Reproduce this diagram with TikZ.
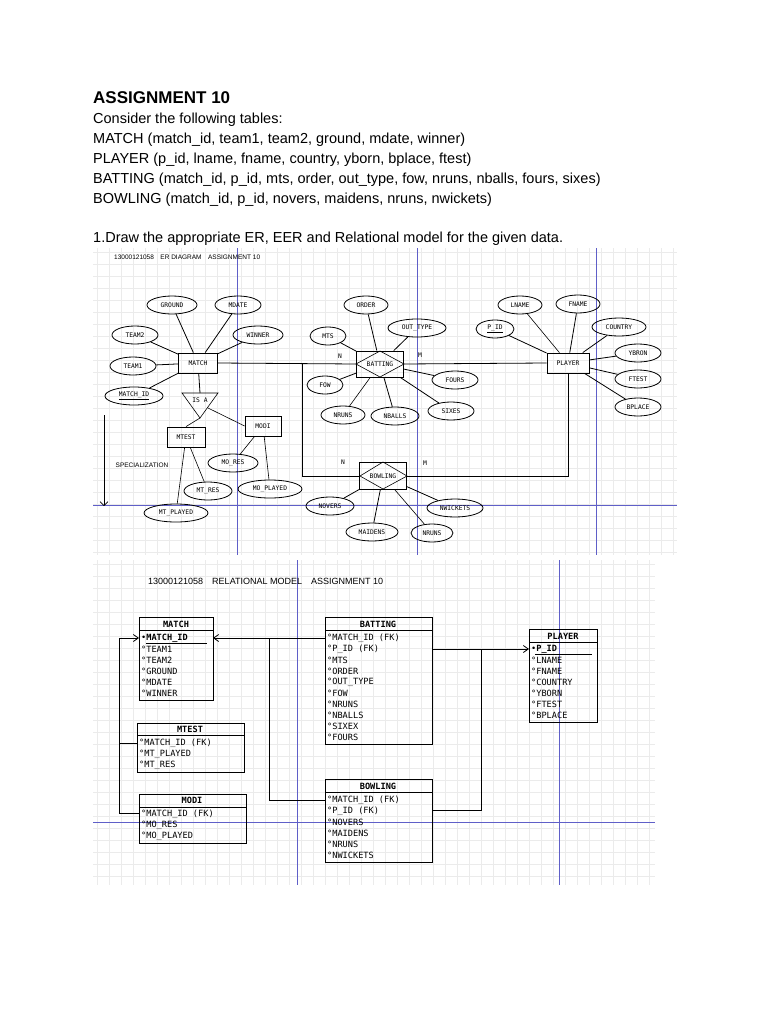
\documentclass[tikz,border=0pt]{standalone}
\usepackage{fontspec}
\setmainfont{Liberation Sans}
\newfontfamily\erf{DejaVu Sans Mono}
\usetikzlibrary{shapes.geometric,arrows.meta}
\definecolor{gblue}{RGB}{95,95,200}
\begin{document}
\begin{tikzpicture}[x=1pt,y=-1pt,
 attr/.style={draw,thick,ellipse,inner sep=0pt,minimum height=18,font=\erf\fontsize{6.3}{7}\selectfont},
 ent/.style={draw,thick,rectangle,inner sep=0pt,font=\erf\fontsize{6.3}{7}\selectfont},
 lbl/.style={font=\erf\fontsize{6.3}{7}\selectfont,inner sep=0pt},
 ln/.style={thick},
 gridl/.style={black!8,line width=0.3pt},
 row/.style={anchor=west,inner sep=0pt,font=\erf\fontsize{8.6}{9}\selectfont},
 hdr/.style={inner sep=0pt,font=\erf\bfseries\fontsize{8.6}{9}\selectfont},
 tbl/.style={draw,thick,anchor=north west,inner sep=0pt},
 arr/.style={thick,-{Straight Barb[length=5pt,width=7pt]}},
 body/.style={anchor=base west,inner sep=0pt,font=\fontsize{14.5}{16}\selectfont}]
\useasboundingbox (0,0) rectangle (768,1024);
\fill[white] (0,0) rectangle (768,1024);
% text
\node[body,font=\bfseries\fontsize{17}{18}\selectfont] (h) at (93,104) {ASSIGNMENT 10};
\node[body] (t1) at (93,124) {Consider the following tables:};
\node[body] (t2) at (93,144) {MATCH (match\_id, team1, team2, ground, mdate, winner)};
\node[body] (t3) at (93,164) {PLAYER (p\_id, lname, fname, country, yborn, bplace, ftest)};
\node[body] (t4) at (93,184) {BATTING (match\_id, p\_id, mts, order, out\_type, fow, nruns, nballs, fours, sixes)};
\node[body] (t5) at (93,204) {BOWLING (match\_id, p\_id, novers, maidens, nruns, nwickets)};
\node[body] (t6) at (93,242) {1.Draw the appropriate ER, EER and Relational model for the given data.};
% grids
\foreach \gx in {97,109,...,677} {\draw[gridl] (\gx,248)--(\gx,555);}
\foreach \gy in {252,264,...,555} {\draw[gridl] (93,\gy)--(677,\gy);}
\foreach \gx in {97,109,...,655} {\draw[gridl] (\gx,560)--(\gx,885);}
\foreach \gy in {564,576,...,885} {\draw[gridl] (93,\gy)--(655,\gy);}
\draw[gblue,thin] (237,248)--(237,555) (417,248)--(417,555) (596,248)--(596,555) (93,505)--(677,505);
\draw[gblue,thin] (297,560)--(297,885) (559,560)--(559,885) (93,822)--(655,822);
% ER
\node[anchor=west,inner sep=0pt,font=\fontsize{6.5}{7}\selectfont] (ert) at (114,257) {13000121058\quad ER DIAGRAM\quad ASSIGNMENT 10};
\node[ent,minimum width=39,minimum height=20] (match) at (198,363) {MATCH};
\node[attr,minimum width=50] (ground) at (172,305) {GROUND};
\node[attr,minimum width=46] (mdate) at (238,305) {MDATE};
\node[attr,minimum width=46] (team2) at (135,335) {TEAM2};
\node[attr,minimum width=50] (winner) at (258,335) {WINNER};
\node[attr,minimum width=46] (team1) at (133,366) {TEAM1};
\node[attr,minimum width=58] (mid) at (134,396) {\underline{MATCH\_ID}};
\draw[ln] (ground)--(match) (mdate)--(match) (team2)--(match) (winner)--(match) (team1)--(match) (mid)--(match);
\coordinate (isa1) at (182,393); \coordinate (isa2) at (218,393); \coordinate (isa3) at (200,418);
\draw[semithick] (isa1)--(isa2)--(isa3)--cycle;
\node[lbl] (isa) at (200,400) {IS A};
\draw[ln] (match)--(200,393);
\node[ent,minimum width=38,minimum height=20] (mtest) at (186,437) {MTEST};
\node[ent,minimum width=36,minimum height=20] (modi) at (263,426) {MODI};
\draw[semithick] (isa3)--(mtest.north) (208,408)--(modi.west);
\node[attr,minimum width=50] (mores) at (233,463) {MO\_RES};
\node[attr,minimum width=64] (mopl) at (270,489) {MO\_PLAYED};
\node[attr,minimum width=48] (mtres) at (208,491) {MT\_RES};
\node[attr,minimum width=64] (mtpl) at (176,513) {MT\_PLAYED};
\draw[semithick] (mores)--(modi) (mopl)--(modi) (mtres)--(mtest) (mtpl)--(mtest);
\node[lbl,font=\fontsize{6.5}{7}\selectfont] (spec) at (142,465) {SPECIALIZATION};
\coordinate (sa) at (104,415); \coordinate (sb) at (104,506);
\draw[semithick,-{Straight Barb[length=4pt]}] (sa)--(sb);
% batting
\node[ent,minimum width=47,minimum height=26] (bat) at (380,364) {};
\coordinate (bd1) at (356,364); \coordinate (bd2) at (380,351); \coordinate (bd3) at (404,364); \coordinate (bd4) at (380,377);
\draw[semithick] (bd1)--(bd2)--(bd3)--(bd4)--cycle;
\node[lbl] (batl) at (380,364) {BATTING};
\node[attr,minimum width=44] (order) at (366,305) {ORDER};
\node[attr,minimum width=36] (mts) at (328,336) {MTS};
\node[attr,minimum width=58] (otype) at (417,328) {OUT\_TYPE};
\node[attr,minimum width=36] (fow) at (325,385) {FOW};
\node[attr,minimum width=44] (nruns) at (343,415) {NRUNS};
\node[attr,minimum width=48] (nballs) at (395,416) {NBALLS};
\node[attr,minimum width=46] (sixes) at (451,411) {SIXES};
\node[attr,minimum width=46] (fours) at (455,380) {FOURS};
\draw[ln] (order)--(bat) (mts)--(bat) (otype)--(bat) (fow)--(bat) (nballs)--(bat) (sixes)--(bat) (fours)--(bat);
\draw[semithick] (nruns)--(bat);
% player
\node[ent,minimum width=42,minimum height=20] (player) at (568,363) {PLAYER};
\node[attr,minimum width=44] (lname) at (520,305) {LNAME};
\node[attr,minimum width=44] (fname) at (578,304) {FNAME};
\node[attr,minimum width=38] (pid) at (495,329) {\underline{P\_ID}};
\node[attr,minimum width=54] (country) at (619,327) {COUNTRY};
\node[attr,minimum width=46] (ybron) at (638,353) {YBRON};
\node[attr,minimum width=46] (ftest) at (638,379) {FTEST};
\node[attr,minimum width=46] (bplace) at (638,407) {BPLACE};
\draw[ln] (fname)--(player) (pid)--(player) (country)--(player) (ybron)--(player) (ftest)--(player) (bplace)--(player);
\draw[semithick] (lname)--(player);
% bowling
\node[ent,minimum width=47,minimum height=27] (bowl) at (383,476) {};
\coordinate (wd1) at (360,476); \coordinate (wd2) at (383,462); \coordinate (wd3) at (407,476); \coordinate (wd4) at (383,489);
\draw[semithick] (wd1)--(wd2)--(wd3)--(wd4)--cycle;
\node[lbl] (bowll) at (383,476) {BOWLING};
\node[attr,minimum width=48] (novers) at (330,506) {NOVERS};
\node[attr,minimum width=52] (maidens) at (372,532) {MAIDENS};
\node[attr,minimum width=42] (nruns2) at (432,533) {NRUNS};
\node[attr,minimum width=56] (nwick) at (455,508) {NWICKETS};
\draw[ln] (novers)--(bowl) (maidens)--(bowl) (nwick)--(bowl);
\draw[semithick] (nruns2)--(bowl);
% relationship lines
\draw[ln] (match.east)--(bat.west) (bat.east)--(player.west);
\coordinate (j1) at (302,363);
\draw[ln] (j1)|-(bowl.west);
\draw[ln] (bowl.east)-|(player.south);
\node[lbl] (n1) at (340,356) {N}; \node[lbl] (m1) at (420,355) {M};
\node[lbl] (n2) at (343,462) {N}; \node[lbl] (m2) at (425,463) {M};
% relational
\node[anchor=west,inner sep=0pt,font=\fontsize{9}{10}\selectfont] (rt) at (148,581) {13000121058\quad RELATIONAL MODEL\quad ASSIGNMENT 10};
% MATCH table
\node[tbl,minimum width=74,minimum height=83] (tm) at (139,617) {};
\draw[thick] (139,630)--(213,630);
\node[hdr] (tmh) at (176,624) {MATCH};
\node[row] (tm1) at (141,638) {•\textbf{MATCH\_ID}};
\draw[semithick] (146,643)--(207,643);
\node[row] (tm2) at (141,649) {°TEAM1};
\node[row] (tm3) at (141,660) {°TEAM2};
\node[row] (tm4) at (141,671) {°GROUND};
\node[row] (tm5) at (141,682) {°MDATE};
\node[row] (tm6) at (141,693) {°WINNER};
% BATTING
\node[tbl,minimum width=107,minimum height=127] (tb) at (325,617) {};
\draw[thick] (325,630)--(432,630);
\node[hdr] (tbh) at (378,624) {BATTING};
\node[row] (tb1) at (327,638) {°MATCH\_ID (FK)};
\node[row] (tb2) at (327,649) {°P\_ID (FK)};
\node[row] (tb3) at (327,660) {°MTS};
\node[row] (tb4) at (327,671) {°ORDER};
\node[row] (tb5) at (327,682) {°OUT\_TYPE};
\node[row] (tb6) at (327,693) {°FOW};
\node[row] (tb7) at (327,704) {°NRUNS};
\node[row] (tb8) at (327,715) {°NBALLS};
\node[row] (tb9) at (327,726) {°SIXEX};
\node[row] (tb10) at (327,737) {°FOURS};
% PLAYER
\node[tbl,minimum width=68,minimum height=93] (tp) at (529,629) {};
\draw[thick] (529,642)--(597,642);
\node[hdr] (tph) at (563,636) {PLAYER};
\node[row] (tp1) at (531,649) {•\textbf{P\_ID}};
\draw[semithick] (535,654)--(592,654);
\node[row] (tp2) at (531,660) {°LNAME};
\node[row] (tp3) at (531,671) {°FNAME};
\node[row] (tp4) at (531,682) {°COUNTRY};
\node[row] (tp5) at (531,693) {°YBORN};
\node[row] (tp6) at (531,704) {°FTEST};
\node[row] (tp7) at (531,715) {°BPLACE};
% MTEST
\node[tbl,minimum width=107,minimum height=49] (tt) at (137,723) {};
\draw[thick] (137,735)--(244,735);
\node[hdr] (tth) at (190,729) {MTEST};
\node[row] (tt1) at (139,743) {°MATCH\_ID (FK)};
\node[row] (tt2) at (139,754) {°MT\_PLAYED};
\node[row] (tt3) at (139,765) {°MT\_RES};
% MODI
\node[tbl,minimum width=107,minimum height=49] (td) at (139,794) {};
\draw[thick] (139,807)--(246,807);
\node[hdr] (tdh) at (192,800) {MODI};
\node[row] (td1) at (141,814) {°MATCH\_ID (FK)};
\node[row] (td2) at (141,825) {°MO\_RES};
\node[row] (td3) at (141,836) {°MO\_PLAYED};
% BOWLING
\node[tbl,minimum width=107,minimum height=83] (tw) at (325,779) {};
\draw[thick] (325,792)--(432,792);
\node[hdr] (twh) at (378,786) {BOWLING};
\node[row] (tw1) at (327,800) {°MATCH\_ID (FK)};
\node[row] (tw2) at (327,811) {°P\_ID (FK)};
\node[row] (tw3) at (327,822) {°NOVERS};
\node[row] (tw4) at (327,833) {°MAIDENS};
\node[row] (tw5) at (327,844) {°NRUNS};
\node[row] (tw6) at (327,855) {°NWICKETS};
% connectors
\coordinate (c1) at (269,638); \coordinate (c2) at (481,649);
\coordinate (mr) at (213,638); \coordinate (ml) at (139,638);
\coordinate (pl) at (529,649);
\draw[arr] (325,638)--(mr);
\draw[thick] (c1)|-(325,800);
\draw[arr] (432,649)--(pl);
\draw[thick] (c2)|-(432,810);
\draw[thick] (137,743)-|(119,638);
\draw[thick] (139,813)-|(119,743);
\draw[arr] (119,638)--(ml);
\end{tikzpicture}
\end{document}
